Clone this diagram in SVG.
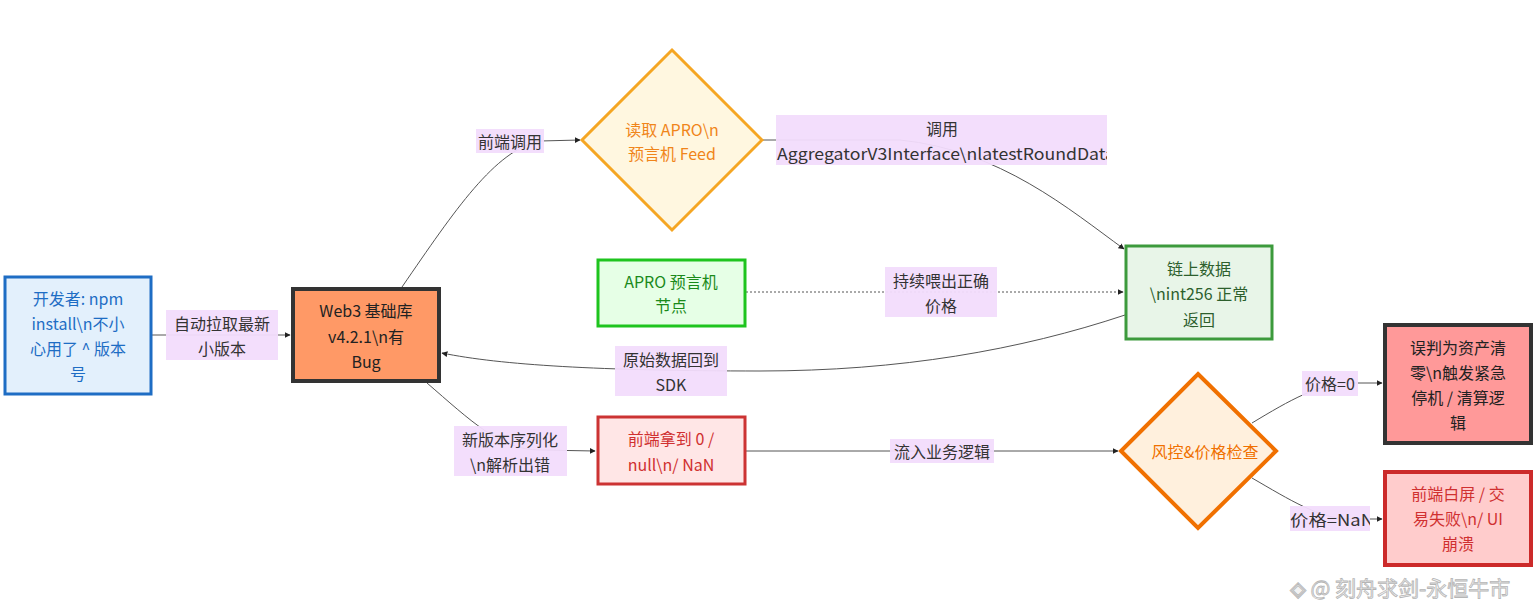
<svg xmlns="http://www.w3.org/2000/svg" width="1536" height="614" viewBox="0 0 1536 614">
<defs>
<marker id="arr" viewBox="0 0 10 10" refX="9" refY="5" markerWidth="6" markerHeight="6" orient="auto"><path d="M0,0 L10,5 L0,10 z" fill="#222"/></marker>
<clipPath id="clipAgg"><rect x="776" y="115" width="331" height="50"/></clipPath>
<clipPath id="clipNaN"><rect x="1290" y="506" width="80" height="25"/></clipPath>
<clipPath id="clipG"><rect x="1120" y="373" width="161" height="156"/></clipPath>
<style>
text{font-family:"Noto Sans CJK SC","Noto Sans",sans-serif;font-size:16px;text-anchor:middle;dominant-baseline:central}
.edge{fill:none;stroke:#555;stroke-width:1}
.lbl{fill:#f2dcfc;opacity:0.95}
.lt{fill:#333}
</style>
</defs>
<rect width="1536" height="614" fill="#fff"/>
<g id="connectors">
<path class="edge" d="M151,335 L290,335" marker-end="url(#arr)"/>
<path class="edge" d="M402,287 C455,210 495,150 540,141 L580,140" marker-end="url(#arr)"/>
<path class="edge" d="M762,140 L900,140 C1000,150 1070,210 1124,249" marker-end="url(#arr)"/>
<path class="edge" d="M746,292 L1123,292" stroke-dasharray="2,2" marker-end="url(#arr)"/>
<path class="edge" d="M1125,315 C1020,350 900,371 760,371 C600,371 500,365 442,353" marker-end="url(#arr)"/>
<path class="edge" d="M427,383 C470,420 500,450 540,450 L595,451" marker-end="url(#arr)"/>
<path class="edge" d="M745,451 L1118,451" marker-end="url(#arr)"/>
<path class="edge" d="M1252,423 C1290,400 1320,383 1350,383 L1382,383" marker-end="url(#arr)"/>
<path class="edge" d="M1252,478 C1290,500 1320,519 1350,519 L1382,519" marker-end="url(#arr)"/>
</g>
<g id="edge-labels">
<rect class="lbl" x="166" y="310" width="112" height="50"/>
<text class="lt" x="222" y="323">自动拉取最新</text>
<text class="lt" x="222" y="348">小版本</text>
<rect class="lbl" x="476" y="129" width="68" height="24"/>
<text class="lt" x="510" y="141">前端调用</text>
<rect class="lbl" x="776" y="115" width="331" height="50"/>
<g clip-path="url(#clipAgg)">
<text class="lt" x="942" y="128">调用</text>
<text class="lt" x="777" y="153" style="text-anchor:start" textLength="338" lengthAdjust="spacingAndGlyphs">AggregatorV3Interface\nlatestRoundData</text>
</g>
<rect class="lbl" x="885" y="267" width="112" height="50"/>
<text class="lt" x="941" y="280">持续喂出正确</text>
<text class="lt" x="941" y="305">价格</text>
<rect class="lbl" x="615" y="346" width="112" height="50"/>
<text class="lt" x="671" y="359">原始数据回到</text>
<text class="lt" x="671" y="384">SDK</text>
<rect class="lbl" x="454" y="426" width="113" height="50"/>
<text class="lt" x="510" y="439">新版本序列化</text>
<text class="lt" x="510" y="464">\n解析出错</text>
<rect class="lbl" x="890" y="439" width="104" height="24"/>
<text class="lt" x="942" y="451">流入业务逻辑</text>
<rect class="lbl" x="1302" y="371" width="56" height="25"/>
<text class="lt" x="1330" y="383">价格=0</text>
<rect class="lbl" x="1290" y="506" width="80" height="25"/>
<text class="lt" x="1290" y="519" clip-path="url(#clipNaN)" style="text-anchor:start" textLength="84" lengthAdjust="spacingAndGlyphs">价格=NaN</text>
</g>
<g id="node-dev">
<rect x="5" y="277" width="146" height="117" fill="#e3f0fc" stroke="#1e6dc4" stroke-width="3"/>
<text x="78" y="298" fill="#1e6dc4">开发者: npm</text>
<text x="78" y="323" fill="#1e6dc4">install\n不小</text>
<text x="78" y="348" fill="#1e6dc4">心用了 ^ 版本</text>
<text x="78" y="373" fill="#1e6dc4">号</text>
</g>
<g id="node-web3">
<rect x="293" y="289" width="146" height="92" fill="#ff9966" stroke="#333" stroke-width="4"/>
<text x="366" y="310" fill="#222">Web3 基础库</text>
<text x="366" y="336" fill="#222">v4.2.1\n有</text>
<text x="366" y="361" fill="#222">Bug</text>
</g>
<g id="node-feed">
<polygon points="672,50 762,140 672,230 582,140" fill="#fff7e0" stroke="#f5a623" stroke-width="3"/>
<text x="672" y="129" fill="#f0851a">读取 APRO\n</text>
<text x="672" y="153" fill="#f0851a">预言机 Feed</text>
</g>
<g id="node-apro">
<rect x="598" y="260" width="147" height="66" fill="#e6ffe6" stroke="#1ec41e" stroke-width="3"/>
<text x="671" y="281" fill="#1a8a1a">APRO 预言机</text>
<text x="671" y="305" fill="#1a8a1a">节点</text>
</g>
<g id="node-chain">
<rect x="1126" y="246" width="146" height="93" fill="#e8f5e8" stroke="#3c9a3c" stroke-width="3"/>
<text x="1199" y="268" fill="#2d5f2d">链上数据</text>
<text x="1199" y="293" fill="#2d5f2d">\nint256 正常</text>
<text x="1199" y="319" fill="#2d5f2d">返回</text>
</g>
<g id="node-front">
<rect x="598" y="417" width="147" height="67" fill="#ffe6e6" stroke="#cc3333" stroke-width="3"/>
<text x="671" y="438" fill="#d03030">前端拿到 0 /</text>
<text x="671" y="464" fill="#d03030">null\n/ NaN</text>
</g>
<g id="node-check">
<polygon points="1198,374 1276,451 1198,528 1121,451" fill="#fff0dd" stroke="#f07000" stroke-width="4"/>
<text x="1205" y="451" fill="#f07000" clip-path="url(#clipG)">风控&amp;价格检查</text>
</g>
<g id="node-zero">
<rect x="1385" y="325" width="146" height="118" fill="#ff9999" stroke="#333" stroke-width="4"/>
<text x="1458" y="347" fill="#222">误判为资产清</text>
<text x="1458" y="372" fill="#222">零\n触发紧急</text>
<text x="1458" y="397" fill="#222">停机 / 清算逻</text>
<text x="1458" y="422" fill="#222">辑</text>
</g>
<g id="node-crash">
<rect x="1385" y="472" width="146" height="93" fill="#ffcccc" stroke="#cc2a2a" stroke-width="4"/>
<text x="1458" y="493" fill="#d03030">前端白屏 / 交</text>
<text x="1458" y="518" fill="#d03030">易失败\n/ UI</text>
<text x="1458" y="543" fill="#d03030">崩溃</text>
</g>
<text x="1400" y="587" fill="#f2f2f2" style="font-size:21px" stroke="#b5b5b5" stroke-width="0.8">◈ @ 刻舟求剑-永恒牛市</text>
</svg>
